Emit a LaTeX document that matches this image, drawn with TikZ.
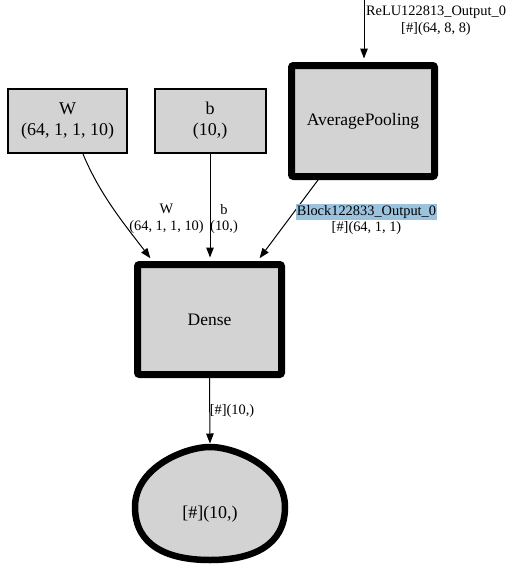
\documentclass[tikz,border=0pt]{standalone}
\usepackage{fontspec}
\setmainfont{Liberation Serif}
\usetikzlibrary{arrows.meta,calc}
\definecolor{boxfill}{HTML}{D3D3D3}
\definecolor{hilite}{HTML}{9CC3DE}
\tikzset{
  thinbox/.style={draw=black, fill=boxfill, line width=2pt, rectangle, inner sep=0pt,
    font=\fontsize{18}{21}\selectfont, align=center},
  thickbox/.style={draw=black, fill=boxfill, line width=7pt, rectangle, rounded corners=2pt, inner sep=0pt,
    font=\fontsize{17.5}{21}\selectfont, align=center},
  elabel/.style={font=\fontsize{14.4}{16.5}\selectfont, align=center, inner sep=0pt},
  edge/.style={line width=1pt, -{Triangle[length=10pt,width=7.5pt]}},
}
\begin{document}
\begin{tikzpicture}[x=1pt,y=-1pt]
\useasboundingbox (0,0) rectangle (521,565);
% nodes
\node[thinbox, minimum width=119pt, minimum height=64pt] (W) at (67.5,121) {W\\(64, 1, 1, 10)};
\node[thinbox, minimum width=111pt, minimum height=64pt] (b) at (210,121) {b\\(10,)};
\node[thickbox, minimum width=143pt, minimum height=111pt] (avg) at (363,121) {AveragePooling};
\node[thickbox, minimum width=144pt, minimum height=110pt] (dense) at (209.5,319.5) {Dense};
% egg output node
\coordinate (eggtop) at (210,447);
\draw[line width=6.5pt, fill=boxfill]
  (210,447) .. controls (236,447) and (285,468) .. (285,507)
  .. controls (285,546) and (252,560) .. (210,560)
  .. controls (168,560) and (135,546) .. (135,507)
  .. controls (135,468) and (184,447) .. (210,447) -- cycle;
\node[font=\fontsize{18}{21}\selectfont, inner sep=0pt] (out) at (210,514) {[\#](10,)};
% top input
\coordinate (relu) at (364,0);
\draw[edge, shorten >=3.5pt] (relu) -- (avg.north -| relu);
\node[elabel] (relulab) at (436,20.5) {ReLU122813\_Output\_0\\{}[\#](64, 8, 8)};
% edges into Dense
\draw[edge, shorten >=3.5pt] ([xshift=15.5pt]W.south) .. controls (100,195) and (125,225) .. ([xshift=-57pt]dense.north);
\node[elabel] (Wlab) at (166.5,219) {W\\(64, 1, 1, 10)};
\draw[edge, shorten >=3.5pt] (b.south) -- (dense.north -| b.south);
\node[elabel] (blab) at (224,219) {b\\(10,)};
\draw[edge, shorten >=3.5pt] ([xshift=-45pt]avg.south) -- ([xshift=48pt]dense.north);
\node[elabel, fill=hilite, inner xsep=1pt, inner ysep=1.5pt] (blocklab) at (366.5,212) {Block122833\_Output\_0};
\node[elabel] (blocklab2) at (366.5,228) {[\#](64, 1, 1)};
% Dense to output
\draw[edge, shorten >=3.5pt] (dense.south) -- (eggtop);
\node[elabel] (outlab) at (232,411) {[\#](10,)};
\end{tikzpicture}
\end{document}
